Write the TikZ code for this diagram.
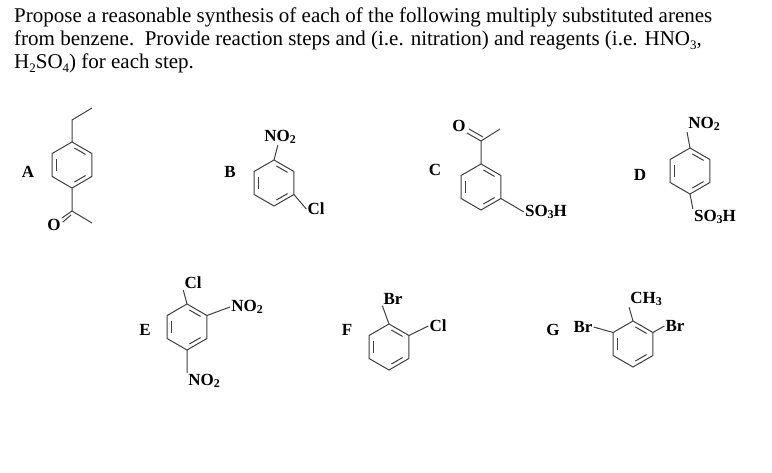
\documentclass[tikz,border=0pt]{standalone}
\usepackage{fontspec}
\setmainfont{Liberation Serif}
\usetikzlibrary{calc}
\newcommand\sbs[1]{\raisebox{-0.35ex}{\fontsize{12}{12}\selectfont #1}}
\newcommand\tsb[1]{\raisebox{-0.35ex}{\fontsize{13}{13}\selectfont #1}}
\newcommand\benz[3]{%
 \foreach \i/\a in {1/-90,2/-30,3/30,4/90,5/150,6/210}
   \coordinate (#1-\i) at ($(#2,#3)+(\a:23)$);
 \coordinate (#1-c) at (#2,#3);
 \draw[bond] (#1-1)--(#1-2)--(#1-3)--(#1-4)--(#1-5)--(#1-6)--cycle;
 \foreach \p/\q in {1/2,3/4,5/6}
   \draw[bond] ($($(#1-\p)!0.15!(#1-\q)$)!0.2!(#1-c)$) -- ($($(#1-\q)!0.15!(#1-\p)$)!0.2!(#1-c)$);
}
\begin{document}
\begin{tikzpicture}[x=1pt,y=-1pt,
  bond/.style={line width=1pt,draw=black!75},
  atom/.style={font=\fontsize{17}{17}\selectfont\bfseries,inner sep=1pt},
  title/.style={font=\fontsize{21}{23}\selectfont,anchor=north west,inner sep=0pt,align=left}]
\useasboundingbox[fill=white] (0,0) rectangle (772,473);
\node[title] (t) at (14,8) {Propose a reasonable synthesis of each of the following multiply substituted arenes\\from benzene.\ \ Provide reaction steps and (i.e. nitration) and reagents (i.e. HNO\tsb{3},\\H\tsb{2}SO\tsb{4}) for each step.};
% A
\node[atom] (la) at (28,172) {A};
\benz{a}{72}{165}
\coordinate (a-e1) at (72,120); \coordinate (a-e2) at (92,108);
\draw[bond] (a-1)--(a-e1)--(a-e2);
\coordinate (a-k) at (72,211); \coordinate (a-m) at (92,223);
\node[atom] (a-o) at (54,225) {O};
\draw[bond] (a-4)--(a-k)--(a-m);
\draw[bond] (a-k)--(a-o.north east);
\draw[bond] ($(a-k)+(-1,4)$)--($(a-o.north east)+(1,4)$);
% B
\node[atom] (lb) at (230,172) {B};
\benz{b}{274}{183}
\node[atom] (b-n) at (280,137) {NO\sbs{2}};
\draw[bond] (b-1)--(b-n);
\node[atom] (b-cl) at (316,209) {Cl};
\draw[bond] (b-3)--(b-cl.west);
% C
\node[atom] (lc) at (435,170) {C};
\benz{c}{481}{187}
\coordinate (c-k) at (481,141); \coordinate (c-m) at (500,129);
\node[atom] (c-o) at (459,126) {O};
\draw[bond] (c-1)--(c-k)--(c-m);
\draw[bond] (c-k)--(c-o.south east);
\draw[bond] ($(c-k)+(2,-4)$)--($(c-o.south east)+(2,-4)$);
\node[atom] (c-s) at (546,212) {SO\sbs{3}H};
\draw[bond] (c-3)--(c-s.west);
% D
\node[atom] (ld) at (640,175) {D};
\benz{d}{690}{171}
\node[atom] (d-n) at (704,124) {NO\sbs{2}};
\draw[bond] (d-1)--(d-n.south west);
\node[atom] (d-s) at (715,217) {SO\sbs{3}H};
\draw[bond] (d-4)--(d-s.north west);
% E
\node[atom] (le) at (145,330) {E};
\benz{e}{187}{327}
\node[atom] (e-cl) at (193,283) {Cl};
\draw[bond] (e-1)--(e-cl.south west);
\node[atom] (e-n) at (247,307) {NO\sbs{2}};
\draw[bond] (e-2)--(e-n.west);
\node[atom] (e-n2) at (204,381) {NO\sbs{2}};
\draw[bond] (e-4)--(e-n2.north west);
% F
\node[atom] (lf) at (347,330) {F};
\benz{f}{389}{347}
\node[atom] (f-br) at (393,299) {Br};
\draw[bond] (f-1)--(f-br.south west);
\node[atom] (f-cl) at (438,326) {Cl};
\draw[bond] (f-2)--(f-cl.west);
% G
\node[atom] (lg) at (553,330) {G};
\benz{g}{633}{344}
\node[atom] (g-ch) at (646,299) {CH\sbs{3}};
\draw[bond] (g-1)--(g-ch.south west);
\node[atom] (g-br1) at (583,327) {Br};
\draw[bond] (g-6)--(g-br1.east);
\node[atom] (g-br2) at (675,326) {Br};
\draw[bond] (g-2)--(g-br2.west);
\end{tikzpicture}
\end{document}
